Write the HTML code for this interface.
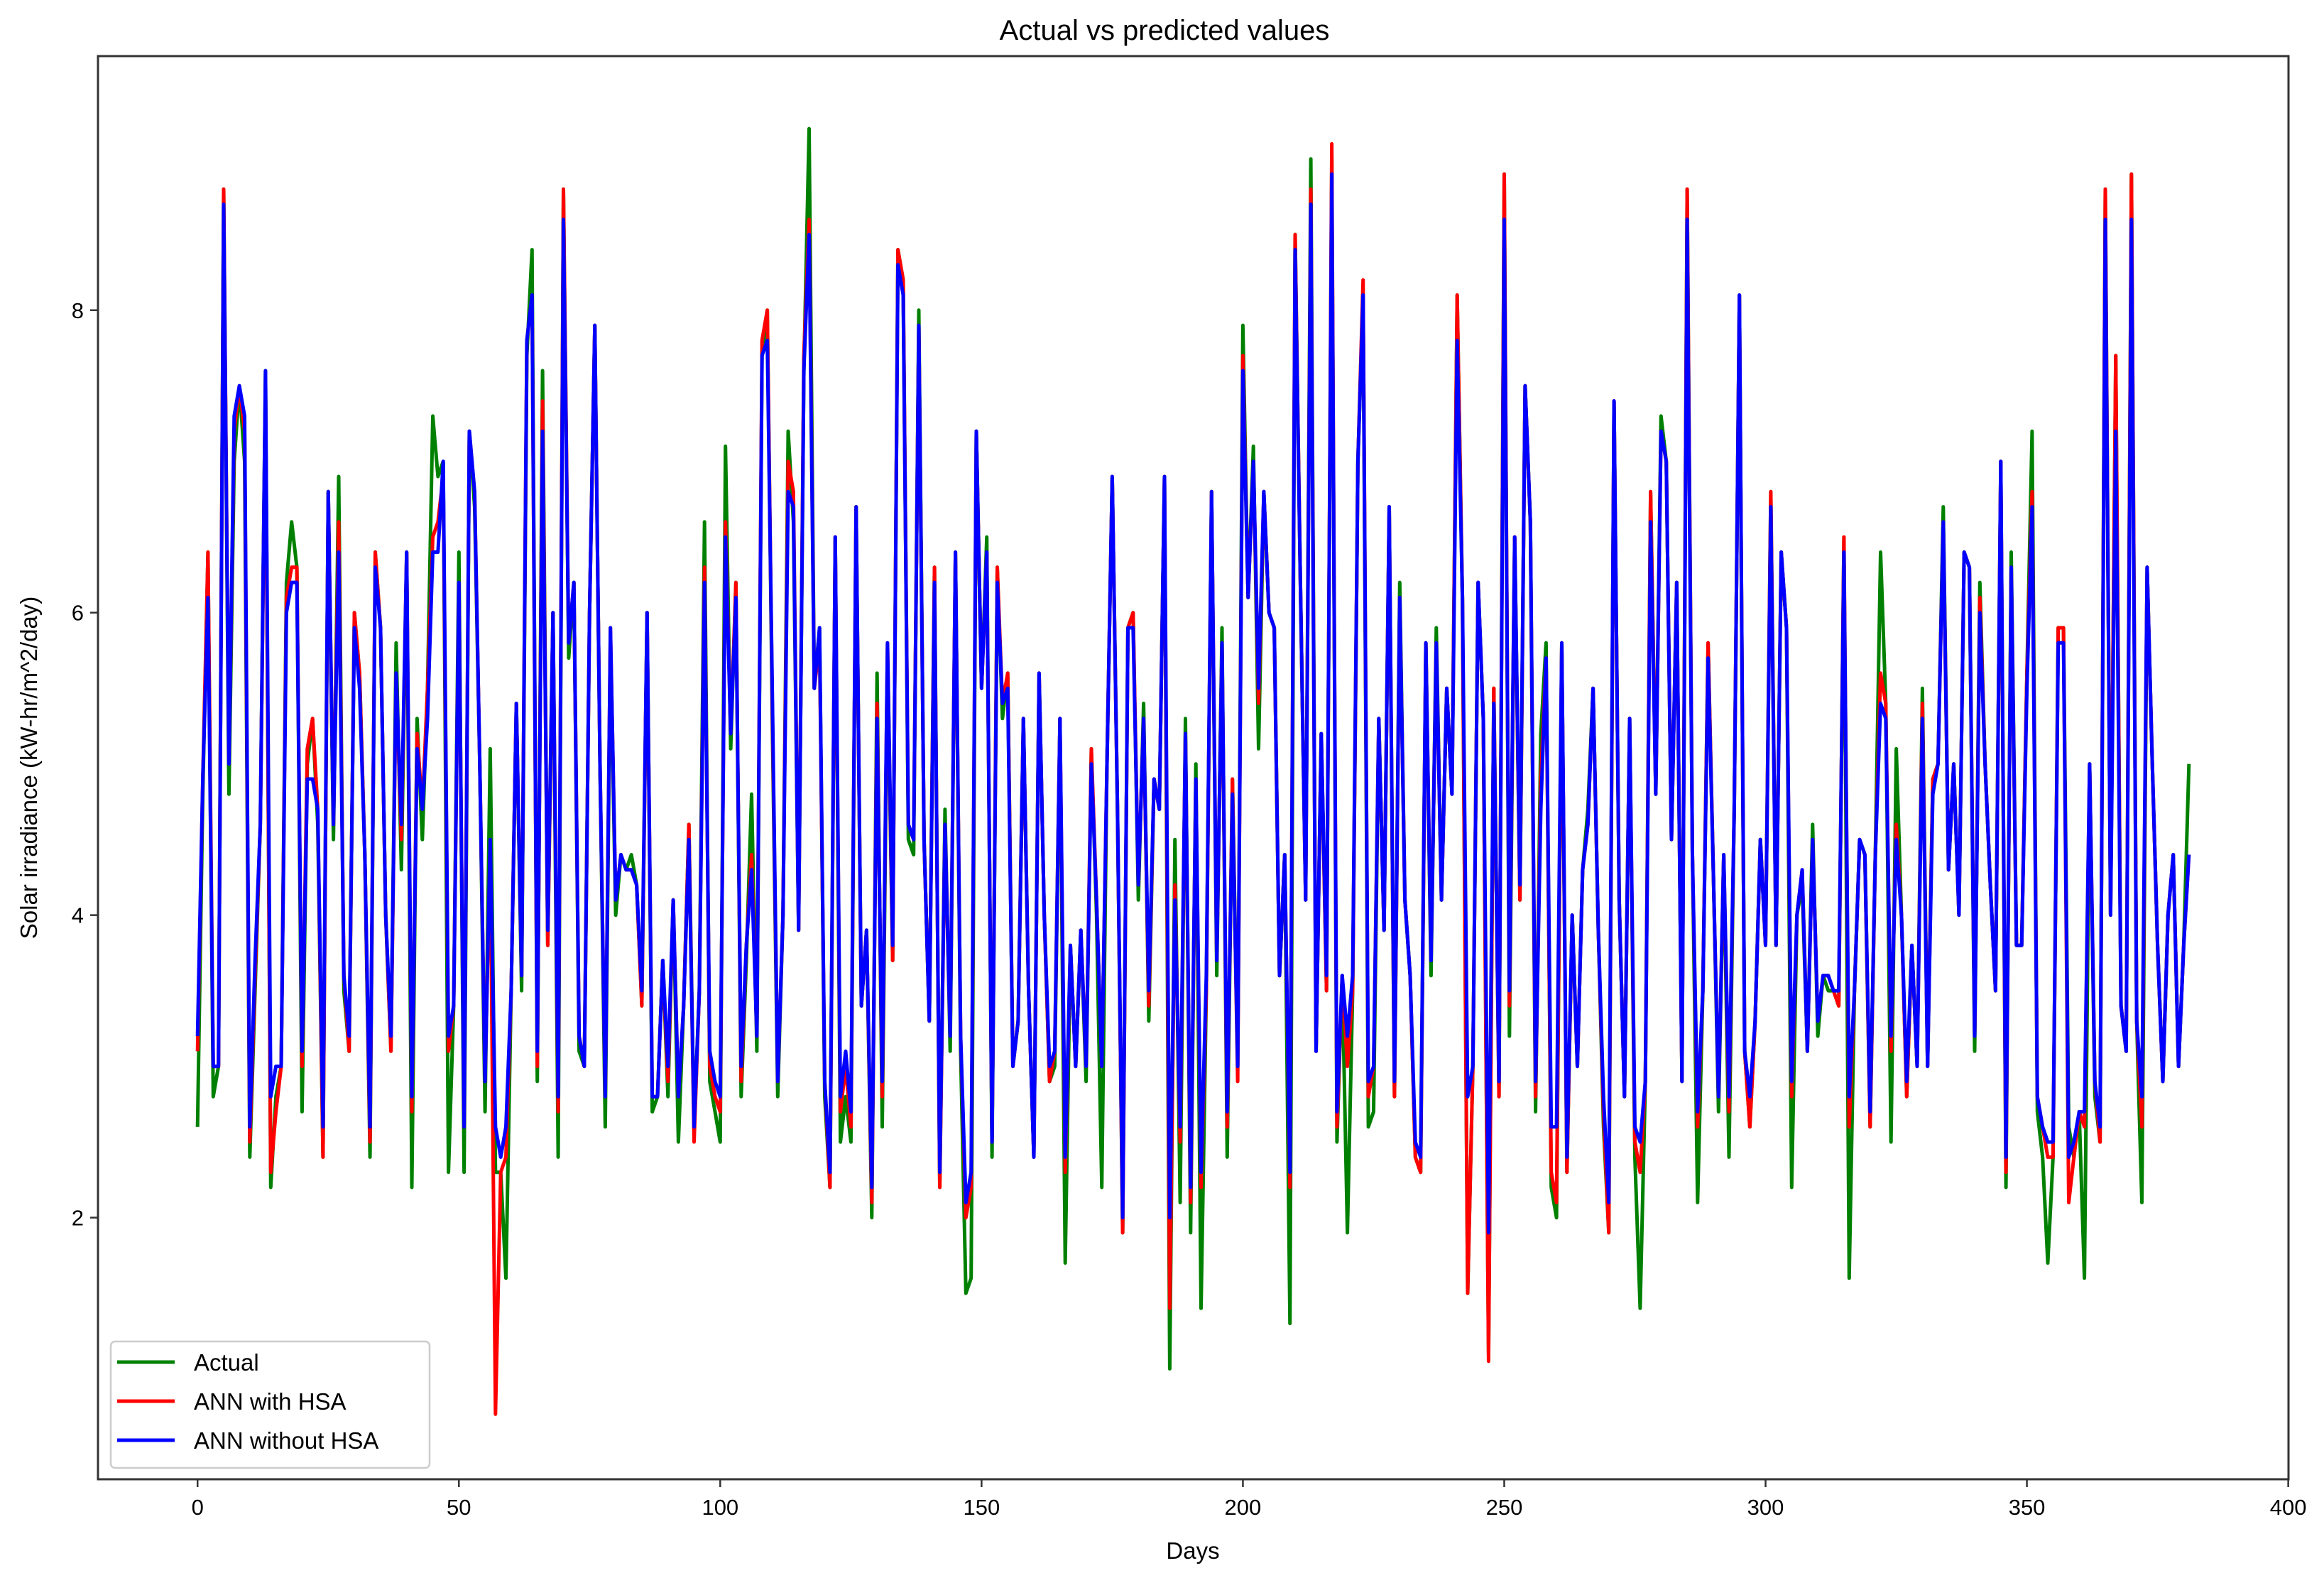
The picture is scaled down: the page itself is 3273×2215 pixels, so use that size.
<!DOCTYPE html>
<html><head><meta charset="utf-8"><style>
html,body{margin:0;padding:0;background:#fff;}
svg{display:block;font-family:"Liberation Sans","DejaVu Sans",sans-serif;}
</style></head><body>
<svg id="chart" width="3273" height="2215" viewBox="0 0 3273 2215" xmlns="http://www.w3.org/2000/svg">
<rect x="0" y="0" width="3273" height="2215" fill="#fff"/>
<text x="1640" y="56" text-anchor="middle" font-size="40" fill="#000">Actual vs predicted values</text>
<g id="series"></g>
<g id="axes"></g>
<rect x="138" y="79" width="3085" height="2004" fill="none" stroke="#333" stroke-width="3"/>
<text x="1680" y="2195" text-anchor="middle" font-size="33" fill="#000">Days</text>
<text x="0" y="0" transform="translate(52,1081) rotate(-90)" text-anchor="middle" font-size="33" fill="#000">Solar irradiance (kW-hr/m^2/day)</text>
<g>
<rect x="156" y="1889" width="449" height="178" rx="6" fill="#fff" fill-opacity="0.85" stroke="#ccc" stroke-width="2.5"/>
<line x1="165" y1="1918" x2="246" y2="1918" stroke="#008000" stroke-width="5"/>
<text x="273" y="1930" font-size="33">Actual</text>
<line x1="165" y1="1973" x2="246" y2="1973" stroke="#ff0000" stroke-width="5"/>
<text x="273" y="1985" font-size="33">ANN with HSA</text>
<line x1="165" y1="2028" x2="246" y2="2028" stroke="#0000ff" stroke-width="5"/>
<text x="273" y="2040" font-size="33">ANN without HSA</text>
</g>
</svg>
<script>
const xTicks = [0,50,100,150,200,250,300,350,400];
const yTicks = [2,4,6,8];
const actual = [2.6,4.8,6.4,2.8,3.0,8.8,4.8,7.0,7.5,7.0,2.4,
3.5,4.6,7.6,2.2,2.8,3.0,6.2,6.6,6.3,2.7,
5.0,5.3,4.6,2.4,6.8,4.5,6.9,3.5,3.1,6.0,
5.6,4.4,2.4,6.4,5.9,4.0,3.1,5.8,4.3,6.4,
2.2,5.3,4.5,5.5,7.3,6.9,7.0,2.3,3.4,6.4,
2.3,7.2,6.7,5.0,2.7,5.1,2.3,2.3,1.6,3.5,
5.4,3.5,7.7,8.4,2.9,7.6,3.8,6.0,2.4,8.8,
5.7,6.2,3.1,3.0,6.0,7.9,5.0,2.6,5.8,4.0,
4.4,4.3,4.4,4.2,3.4,6.0,2.7,2.8,3.7,2.8,
4.1,2.5,3.4,4.6,2.6,3.5,6.6,2.9,2.7,2.5,
7.1,5.1,6.2,2.8,3.7,4.8,3.1,7.7,8.0,5.2,
2.8,4.0,7.2,6.6,3.9,7.6,9.2,5.5,5.9,2.8,
2.2,6.5,2.5,2.8,2.5,6.7,3.4,3.9,2.0,5.6,
2.6,5.7,3.7,8.4,8.2,4.5,4.4,8.0,4.5,3.3,
6.3,2.2,4.7,3.1,6.4,3.1,1.5,1.6,7.2,5.5,
6.5,2.4,6.3,5.3,5.6,3.0,3.3,5.3,3.5,2.4,
5.6,4.0,2.9,3.0,5.3,1.7,3.8,3.0,3.9,2.9,
5.1,4.0,2.2,5.0,6.9,4.7,1.9,5.9,6.0,4.1,
5.4,3.3,4.9,4.7,6.9,1.0,4.5,2.1,5.3,1.9,
5.0,1.4,3.5,6.8,3.6,5.9,2.4,4.9,3.0,7.9,
6.1,7.1,5.1,6.8,6.0,5.9,3.6,4.4,1.3,8.5,
6.2,4.1,9.0,3.1,5.2,3.5,9.0,2.5,3.6,1.9,
3.5,7.0,8.1,2.6,2.7,5.3,3.9,6.7,2.8,6.2,
4.1,3.6,2.4,2.3,5.8,3.6,5.9,4.1,5.5,4.8,
8.1,6.1,1.5,3.0,6.2,5.3,1.1,5.5,2.8,8.9,
3.2,6.5,4.1,7.5,6.6,2.7,5.2,5.8,2.2,2.0,
5.8,2.3,4.0,3.0,4.3,4.7,5.5,3.9,2.6,1.9,
7.4,4.1,2.8,5.3,2.4,1.4,2.9,6.8,4.8,7.3,
7.0,4.5,6.2,2.9,8.8,4.4,2.1,3.5,5.8,4.3,
2.7,4.4,2.4,4.7,8.1,3.1,2.6,3.3,4.5,3.8,
6.8,3.8,6.4,5.9,2.2,4.0,4.2,3.1,4.6,3.2,
3.6,3.5,3.5,3.4,6.5,1.6,3.5,4.5,4.4,2.6,
4.4,6.4,5.4,2.5,5.1,4.0,2.8,3.8,3.0,5.5,
3.0,4.9,5.0,6.7,4.3,5.0,4.0,6.4,6.3,3.1,
6.2,5.0,4.2,3.5,7.0,2.2,6.4,3.8,3.8,5.6,
7.2,2.7,2.4,1.7,2.4,5.9,5.9,2.6,2.4,2.7,
1.6,5.0,2.8,2.5,8.8,4.0,7.7,3.4,3.1,8.9,
3.3,2.1,6.3,5.0,3.8,2.9,4.0,4.4,3.0,3.8,5.0];
const withHSA = [3.1,4.9,6.4,3.0,3.0,8.8,5.0,7.2,7.5,7.2,2.5,
3.6,4.6,7.5,2.3,2.7,3.0,6.1,6.3,6.3,3.0,
5.1,5.3,4.7,2.4,6.8,4.6,6.6,3.6,3.1,6.0,
5.6,4.4,2.5,6.4,5.9,4.0,3.1,5.6,4.5,6.4,
2.7,5.2,4.7,5.5,6.5,6.6,6.9,3.1,3.4,6.2,
2.6,7.2,6.8,5.0,2.9,4.5,0.7,2.3,2.4,3.5,
5.4,3.6,7.8,8.1,3.0,7.4,3.8,6.0,2.7,8.8,
5.8,6.2,3.2,3.0,6.0,7.9,5.0,2.8,5.9,4.1,
4.4,4.3,4.3,4.2,3.4,6.0,2.8,2.8,3.7,2.9,
4.1,2.8,3.4,4.6,2.5,3.5,6.3,3.0,2.8,2.7,
6.6,5.2,6.2,2.9,3.8,4.4,3.2,7.8,8.0,5.3,
2.9,4.0,7.0,6.8,3.9,7.7,8.6,5.5,5.8,2.9,
2.2,6.5,2.7,3.0,2.6,6.7,3.4,3.9,2.1,5.4,
2.8,5.8,3.7,8.4,8.2,4.6,4.5,7.9,4.5,3.3,
6.3,2.2,4.6,3.2,6.4,3.2,2.0,2.2,7.2,5.5,
6.4,2.5,6.3,5.4,5.6,3.0,3.3,5.3,3.5,2.4,
5.6,4.0,2.9,3.1,5.3,2.3,3.8,3.0,3.9,3.0,
5.1,4.1,3.0,5.0,6.9,4.7,1.9,5.9,6.0,4.2,
5.3,3.4,4.9,4.7,6.9,1.4,4.2,2.5,5.2,2.1,
4.9,2.2,3.5,6.8,3.7,5.8,2.6,4.9,2.9,7.7,
6.1,7.0,5.4,6.8,6.0,5.9,3.6,4.4,2.2,8.5,
6.2,4.1,8.8,3.1,5.2,3.5,9.1,2.6,3.6,3.0,
3.5,7.0,8.2,2.8,3.0,5.3,3.9,6.7,2.8,6.1,
4.1,3.6,2.4,2.3,5.8,3.7,5.8,4.1,5.5,4.8,
8.1,6.1,1.5,3.0,6.2,5.3,1.05,5.5,2.8,8.9,
3.4,6.5,4.1,7.5,6.6,2.8,4.9,5.7,2.3,2.1,
5.8,2.3,4.0,3.0,4.3,4.6,5.5,3.9,2.7,1.9,
7.4,4.1,2.8,5.3,2.5,2.3,2.9,6.8,4.8,7.2,
7.0,4.5,6.2,2.9,8.8,4.4,2.6,3.5,5.8,4.3,
2.8,4.4,2.7,4.7,8.1,3.1,2.6,3.3,4.5,3.8,
6.8,3.8,6.4,5.9,2.8,4.0,4.3,3.1,4.5,3.3,
3.6,3.6,3.5,3.4,6.5,2.6,3.5,4.5,4.4,2.6,
4.4,5.6,5.4,3.1,4.6,4.0,2.8,3.8,3.0,5.4,
3.0,4.9,5.0,6.6,4.3,5.0,4.0,6.4,6.3,3.2,
6.1,5.0,4.2,3.5,7.0,2.3,6.3,3.8,3.8,5.6,
6.8,2.8,2.6,2.4,2.4,5.9,5.9,2.1,2.4,2.7,
2.6,5.0,2.9,2.5,8.8,4.0,7.7,3.4,3.1,8.9,
3.3,2.6,6.3,5.0,3.8,2.9,4.0,4.4,3.0,3.8,4.4];
const withoutHSA = [3.2,4.9,6.1,3.0,3.0,8.7,5.0,7.3,7.5,7.3,2.6,
3.7,4.6,7.6,2.8,3.0,3.0,6.0,6.2,6.2,3.1,
4.9,4.9,4.7,2.6,6.8,4.6,6.4,3.6,3.2,5.9,
5.5,4.4,2.6,6.3,5.9,4.0,3.2,5.6,4.6,6.4,
2.8,5.1,4.7,5.3,6.4,6.4,7.0,3.2,3.4,6.2,
2.6,7.2,6.8,5.0,2.9,4.5,2.6,2.4,2.6,3.5,
5.4,3.6,7.8,8.1,3.1,7.2,3.9,6.0,2.8,8.6,
5.8,6.2,3.2,3.0,6.0,7.9,5.0,2.8,5.9,4.1,
4.4,4.3,4.3,4.2,3.5,6.0,2.8,2.8,3.7,3.0,
4.1,2.8,3.4,4.5,2.6,3.5,6.2,3.1,2.9,2.8,
6.5,5.2,6.1,3.0,3.8,4.3,3.2,7.7,7.8,5.4,
2.9,4.0,6.8,6.7,3.9,7.6,8.5,5.5,5.9,2.9,
2.3,6.5,2.8,3.1,2.7,6.7,3.4,3.9,2.2,5.3,
2.9,5.8,3.8,8.3,8.1,4.6,4.5,7.9,4.5,3.3,
6.2,2.3,4.6,3.2,6.4,3.2,2.1,2.3,7.2,5.5,
6.4,2.5,6.2,5.4,5.5,3.0,3.3,5.3,3.5,2.4,
5.6,4.0,3.0,3.1,5.3,2.4,3.8,3.0,3.9,3.0,
5.0,4.1,3.0,5.0,6.9,4.7,2.0,5.9,5.9,4.2,
5.3,3.5,4.9,4.7,6.9,2.0,4.1,2.6,5.2,2.2,
4.9,2.3,3.6,6.8,3.7,5.8,2.7,4.8,3.0,7.6,
6.1,7.0,5.5,6.8,6.0,5.9,3.6,4.4,2.3,8.4,
6.2,4.1,8.7,3.1,5.2,3.6,8.9,2.7,3.6,3.2,
3.6,7.0,8.1,2.9,3.0,5.3,3.9,6.7,2.9,6.1,
4.1,3.6,2.5,2.4,5.8,3.7,5.8,4.1,5.5,4.8,
7.8,6.1,2.8,3.0,6.2,5.3,1.9,5.4,2.9,8.6,
3.5,6.5,4.2,7.5,6.6,2.9,4.7,5.7,2.6,2.6,
5.8,2.4,4.0,3.0,4.3,4.6,5.5,3.9,2.8,2.1,
7.4,4.1,2.8,5.3,2.6,2.5,2.9,6.6,4.8,7.2,
7.0,4.5,6.2,2.9,8.6,4.4,2.7,3.5,5.7,4.3,
2.8,4.4,2.8,4.7,8.1,3.1,2.8,3.3,4.5,3.8,
6.7,3.8,6.4,5.9,2.9,4.0,4.3,3.1,4.5,3.3,
3.6,3.6,3.5,3.5,6.4,2.8,3.5,4.5,4.4,2.7,
4.4,5.4,5.3,3.2,4.5,4.0,2.9,3.8,3.0,5.3,
3.0,4.8,5.0,6.6,4.3,5.0,4.0,6.4,6.3,3.2,
6.0,5.0,4.2,3.5,7.0,2.4,6.3,3.8,3.8,5.5,
6.7,2.8,2.6,2.5,2.5,5.8,5.8,2.4,2.5,2.7,
2.7,5.0,2.9,2.6,8.6,4.0,7.2,3.4,3.1,8.6,
3.3,2.8,6.3,5.0,3.8,2.9,4.0,4.4,3.0,3.8,4.4];

const xMin = -19.05, xMax = 400.05, yMin = 0.27, yMax = 9.68;
const L = 138, R = 3223, T = 79, B = 2083;
function sx(v){ return L + (v - xMin) / (xMax - xMin) * (R - L); }
function sy(v){ return B - (v - yMin) / (yMax - yMin) * (B - T); }
const NS = 'http://www.w3.org/2000/svg';
const seriesG = document.getElementById('series');
const axesG = document.getElementById('axes');

function drawLine(data, color, name){
  const p = document.createElementNS(NS, 'polyline');
  p.setAttribute('points', data.map((v,i) => sx(i).toFixed(1) + ',' + sy(v).toFixed(1)).join(' '));
  p.setAttribute('fill', 'none');
  p.setAttribute('stroke', color);
  p.setAttribute('stroke-width', '5');
  p.setAttribute('stroke-linejoin', 'round');
  
  
  seriesG.appendChild(p);
}
drawLine(actual, '#008000', 'series-actual');
drawLine(withHSA, '#ff0000', 'series-ann-with-hsa');
drawLine(withoutHSA, '#0000ff', 'series-ann-without-hsa');

xTicks.forEach(t => {
  const x = sx(t);
  const ln = document.createElementNS(NS, 'line');
  ln.setAttribute('x1', x); ln.setAttribute('x2', x);
  ln.setAttribute('y1', B); ln.setAttribute('y2', B + 11);
  ln.setAttribute('stroke', '#333'); ln.setAttribute('stroke-width', '2.5');
  
  
  axesG.appendChild(ln);
  const tx = document.createElementNS(NS, 'text');
  tx.setAttribute('x', x); tx.setAttribute('y', B + 50);
  tx.setAttribute('text-anchor', 'middle'); tx.setAttribute('font-size', '31');
  tx.textContent = t;
  
  
  axesG.appendChild(tx);
});
yTicks.forEach(t => {
  const y = sy(t);
  const ln = document.createElementNS(NS, 'line');
  ln.setAttribute('x1', L - 11); ln.setAttribute('x2', L);
  ln.setAttribute('y1', y); ln.setAttribute('y2', y);
  ln.setAttribute('stroke', '#333'); ln.setAttribute('stroke-width', '2.5');
  
  
  axesG.appendChild(ln);
  const tx = document.createElementNS(NS, 'text');
  tx.setAttribute('x', L - 20); tx.setAttribute('y', y + 11);
  tx.setAttribute('text-anchor', 'end'); tx.setAttribute('font-size', '31');
  tx.textContent = t;
  
  
  axesG.appendChild(tx);
});
</script>
</body></html>
